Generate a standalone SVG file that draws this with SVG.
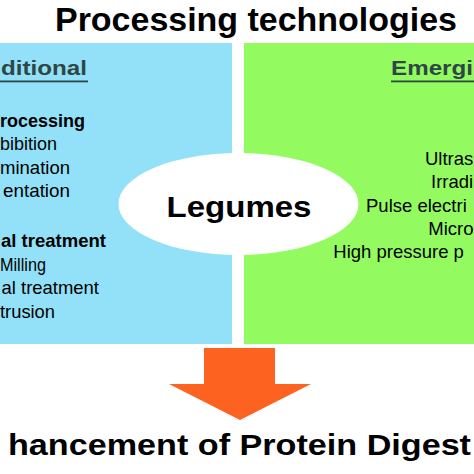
<svg xmlns="http://www.w3.org/2000/svg" width="474" height="474" viewBox="0 0 474 474">
<style>
text{font-family:"Liberation Sans",Arial,sans-serif;fill:#000}
.b{font-weight:bold}
.hdr{font-weight:bold;font-size:21px;fill:#2E4646}
.it{font-size:18.5px}
.ul{fill:#2E4646}
</style>
<rect width="474" height="474" fill="#fff"/>
<g id="title"><text class="b" x="256" y="31" font-size="33" text-anchor="middle" textLength="402" lengthAdjust="spacingAndGlyphs">Processing technologies</text></g>
<g id="traditional">
<rect x="0" y="43" width="232" height="301" fill="#93E1F8"/>
<text class="hdr" x="1" y="75" textLength="86" lengthAdjust="spacingAndGlyphs">ditional</text>
<rect class="ul" x="0" y="80.5" width="88" height="1.8"/>
<g class="it">
<text class="b" x="0" y="127" textLength="85" lengthAdjust="spacingAndGlyphs">rocessing</text>
<text x="0" y="150" textLength="57" lengthAdjust="spacingAndGlyphs">bibition</text>
<text x="0" y="173.5" textLength="70" lengthAdjust="spacingAndGlyphs">mination</text>
<text x="3" y="197" textLength="67" lengthAdjust="spacingAndGlyphs">entation</text>
<text class="b" x="1" y="247" textLength="105" lengthAdjust="spacingAndGlyphs">al treatment</text>
<text x="0" y="270.5" textLength="46" lengthAdjust="spacingAndGlyphs">Milling</text>
<text x="1.5" y="294" textLength="97.5" lengthAdjust="spacingAndGlyphs">al treatment</text>
<text x="0" y="318" textLength="55" lengthAdjust="spacingAndGlyphs">trusion</text>
</g>
</g>
<g id="emerging">
<rect x="244" y="43" width="230" height="301" fill="#93FB60"/>
<text class="hdr" x="391" y="75" textLength="82" lengthAdjust="spacingAndGlyphs">Emergi</text>
<rect class="ul" x="391" y="80.5" width="83" height="1.8"/>
<g class="it">
<text x="425" y="165">Ultras</text>
<text x="431" y="188.3">Irradi</text>
<text x="366" y="211.7">Pulse electri</text>
<text x="428.3" y="235">Micro</text>
<text x="333.3" y="258.3">High pressure p</text>
</g>
</g>
<g id="legumes">
<ellipse cx="238.5" cy="204" rx="120" ry="51" fill="#fff"/>
<text class="b" x="239" y="216.5" font-size="30" text-anchor="middle" textLength="145" lengthAdjust="spacingAndGlyphs">Legumes</text>
</g>
<g id="connectors">
<polygon points="204,348 275,348 275,384 311,384 240,420 169,384 204,384" fill="#FE6220"/>
</g>
<g id="result"><text class="b" x="8" y="455" font-size="30" textLength="463" lengthAdjust="spacingAndGlyphs">hancement of Protein Digest</text></g>
</svg>
